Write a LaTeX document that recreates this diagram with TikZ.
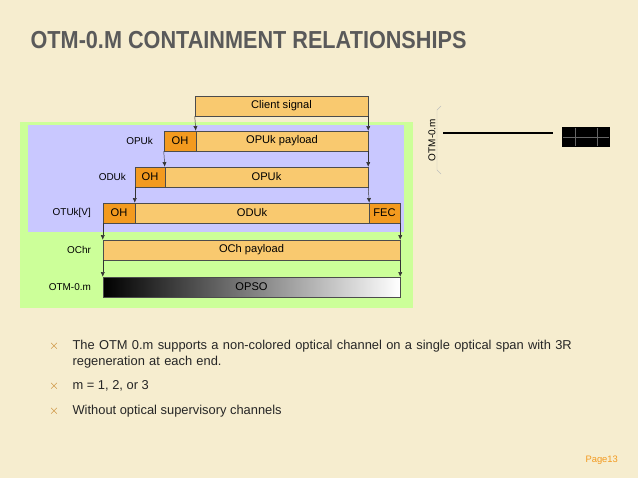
\documentclass[tikz,border=0pt]{standalone}
\usepackage{fontspec}
\setmainfont{Liberation Sans}
\usetikzlibrary{fit,arrows.meta}
\definecolor{beige}{HTML}{F6EDCF}
\definecolor{pale}{HTML}{F9C96F}
\definecolor{ohcol}{HTML}{F39A1F}
\definecolor{grn}{HTML}{CCFF99}
\definecolor{lav}{HTML}{C9C8FF}
\definecolor{ttl}{HTML}{5A5A5A}
\tikzstyle{box} = [draw=black!70, fill=pale, inner sep=0pt, label={[font=\fontsize{9.5}{10}\selectfont]center:#1}]
\tikzstyle{oh} = [box=#1, fill=ohcol]
\tikzstyle{lbl} = [anchor=east, font=\fontsize{8.5}{9}\selectfont]
\tikzstyle{arr} = [-{Latex[length=4pt,width=3.5pt]}, black!80]
\tikzstyle{bul} = [anchor=west, font=\fontsize{11}{14}\selectfont, text=black!85]

\begin{document}
\begin{tikzpicture}[x=0.03cm, y=-0.03cm]

\fill[beige] (0,0) rectangle (638,478);
\useasboundingbox (0,0) rectangle (638,478);

% title
\node[anchor=west, text=ttl, font=\bfseries\fontsize{21}{24}\selectfont, xscale=0.88] (title) at (27,40) {OTM-0.M CONTAINMENT RELATIONSHIPS};

% background areas
\fill[grn] (20,122) rectangle (413,308);
\fill[lav] (28,125) rectangle (404,232);

% client signal
\node[box=Client signal, fit={(195,96)(368,116)}] (cs) {};

% OPUk row
\node[oh=OH, fit={(164,131)(196,151)}] (oh1) {};
\node[box=OPUk payload, fit={(196,131)(368,151)}] (pl1) {};
\node[lbl] (l1) at (157,141) {OPUk};

% ODUk row
\node[oh=OH, fit={(135,167)(165,187)}] (oh2) {};
\node[box=OPUk, fit={(165,167)(368,187)}] (opu2) {};
\node[lbl] (l2) at (130,177) {ODUk};

% OTUk row
\node[oh=OH, fit={(103,203)(135,223)}] (oh3) {};
\node[box=ODUk, fit={(135,203)(369,223)}] (odu3) {};
\node[oh=FEC, fit={(369,203)(400,223)}] (fec) {};
\node[lbl] (l3) at (95,213) {OTUk[V]};

% OCh and OPS0
\node[box=OCh payload, fit={(103,240)(400,260)}] (och) {};
\node[lbl] (l4) at (95,250) {OChr};
\node[box=OPSO, fit={(103,277)(400,297)}, left color=black, right color=white] (ops) {};
\node[lbl] (l5) at (95,287) {OTM-0.m};

% containment arrows
\draw[arr] (cs.south west) -- (pl1.north west);
\draw[arr] (cs.south east) -- (pl1.north east);
\draw[arr] (oh1.south west) -- (opu2.north west);
\draw[arr] (pl1.south east) -- (opu2.north east);
\draw[arr] (oh2.south west) -- (odu3.north west);
\draw[arr] (opu2.south east) -- (odu3.north east);
\draw[arr] (oh3.south west) -- (och.north west);
\draw[arr] (fec.south east) -- (och.north east);
\draw[arr] (och.south west) -- (ops.north west);
\draw[arr] (och.south east) -- (ops.north east);

% side view
\node[rotate=90, font=\fontsize{8.5}{9}\selectfont] (side) at (432,140) {OTM-0.m};
\draw[black!25] (441,106) -- (437,110) -- (437,170) -- (441,174);
\coordinate (lnA) at (443,133);
\coordinate (lnB) at (553,133);
\draw[line width=2.5pt] (lnA) -- (lnB);
\node[fill=black, minimum width=1.44cm, minimum height=0.6cm, inner sep=0pt] (blk) at (586,137) {};
\draw[white!40!black, line width=0.2pt] (575,128) -- (575,146) (597,128) -- (597,146) (563,137) -- (609,137);

% bullets
\node[bul, text width=16.5cm, align=left] (b1) at (45,354) {\makebox[20pt][l]{\textcolor{ohcol!80!black}{$\times$}}The OTM 0.m supports a non-colored optical channel on a single optical span with 3R\\\hspace*{20pt}regeneration at each end.};
\node[bul] (b2) at (45,386) {\makebox[20pt][l]{\textcolor{ohcol!80!black}{$\times$}}m = 1, 2, or 3};
\node[bul] (b3) at (45,411) {\makebox[20pt][l]{\textcolor{ohcol!80!black}{$\times$}}Without optical supervisory channels};

\node[anchor=east, text=ohcol, font=\fontsize{8}{9}\selectfont] (pg) at (622,460) {Page13};

\end{tikzpicture}
\end{document}
